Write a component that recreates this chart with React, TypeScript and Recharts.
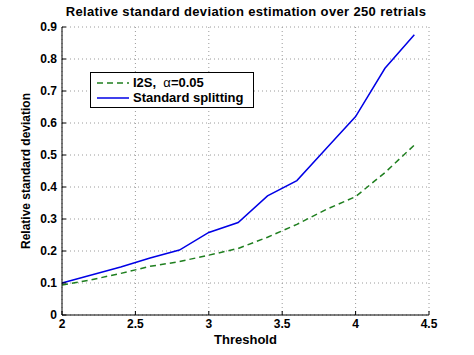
import React from "react";
import {
  LineChart,
  Line,
  XAxis,
  YAxis,
  CartesianGrid,
  Legend,
} from "recharts";

const thresholds = [2, 2.2, 2.4, 2.6, 2.8, 3, 3.2, 3.4, 3.6, 3.8, 4, 4.2, 4.4];
const i2sValues = [0.094, 0.11, 0.13, 0.152, 0.167, 0.187, 0.208, 0.243, 0.283, 0.33, 0.37, 0.445, 0.531];
const standardValues = [0.1, 0.125, 0.15, 0.178, 0.203, 0.258, 0.289, 0.372, 0.42, 0.52, 0.62, 0.771, 0.876];
const xTicks = [2, 2.5, 3, 3.5, 4, 4.5];
const yTicks = [0, 0.1, 0.2, 0.3, 0.4, 0.5, 0.6, 0.7, 0.8, 0.9];

const I2S_COLOR = "#1f7f1f";
const STD_COLOR = "#0000e6";
const FONT = "'Liberation Sans', Arial, sans-serif";

const data = thresholds.map((t, i) => ({
  threshold: t,
  i2s: i2sValues[i],
  standard: standardValues[i],
}));

function LegendBox() {
  return (
    <div
      style={{
        border: "1px solid #000",
        background: "#fff",
        padding: "2px 4px",
        fontFamily: FONT,
        fontWeight: "bold",
        fontSize: 13,
        color: "#000",
        lineHeight: "15px",
        width: 154,
      }}
    >
      <div style={{ display: "flex", alignItems: "center" }}>
        <svg width={36} height={10}>
          <line x1={2} y1={5} x2={34} y2={5} stroke={I2S_COLOR} strokeWidth={1.5} strokeDasharray="6 4" />
        </svg>
        <span style={{ marginLeft: 2 }}>
          I2S,&nbsp; <span style={{ fontWeight: "normal" }}>α</span>=0.05
        </span>
      </div>
      <div style={{ display: "flex", alignItems: "center" }}>
        <svg width={36} height={10}>
          <line x1={2} y1={5} x2={34} y2={5} stroke={STD_COLOR} strokeWidth={1.5} />
        </svg>
        <span style={{ marginLeft: 2 }}>Standard splitting</span>
      </div>
    </div>
  );
}

export default function App() {
  const tickStyle = { fontSize: 12, fontWeight: "bold" as const, fill: "#000", fontFamily: FONT };
  return (
    <div style={{ position: "absolute", left: 0, top: 0, width: 474, height: 355, background: "#fff" }}>
      <div
        style={{
          position: "absolute",
          left: 0,
          top: 4,
          width: 492,
          textAlign: "center",
          fontFamily: FONT,
          fontWeight: "bold",
          fontSize: 13,
          color: "#000",
          letterSpacing: 0.35,
        }}
      >
        Relative standard deviation estimation over 250 retrials
      </div>
      <LineChart
        width={474}
        height={355}
        data={data}
        margin={{ top: 27, right: 45, left: 0, bottom: 0 }}
      >
        <CartesianGrid stroke="#9a9a9a" strokeDasharray="1 3" />
        <XAxis
          dataKey="threshold"
          type="number"
          domain={[2, 4.5]}
          ticks={xTicks}
          height={40}
          tick={tickStyle}
          tickSize={-4}
          tickMargin={8}
          tickLine={{ stroke: "#000" }}
          axisLine={{ stroke: "#000" }}
          label={{ value: "Threshold", position: "insideBottom", offset: 11, style: { ...tickStyle, fontSize: 13 } }}
        />
        <XAxis
          xAxisId="top"
          dataKey="threshold"
          type="number"
          orientation="top"
          domain={[2, 4.5]}
          ticks={xTicks}
          height={0}
          tick={false}
          tickSize={-4}
          tickLine={{ stroke: "#000" }}
          axisLine={{ stroke: "#000" }}
        />
        <YAxis
          type="number"
          domain={[0, 0.9]}
          ticks={yTicks}
          width={62}
          tick={tickStyle}
          tickSize={-4}
          tickMargin={9}
          tickLine={{ stroke: "#000" }}
          axisLine={{ stroke: "#000" }}
          label={{
            value: "Relative standard deviation",
            angle: -90,
            position: "insideLeft",
            offset: 26,
            style: { ...tickStyle, fontSize: 12, textAnchor: "middle" },
          }}
        />
        <YAxis
          yAxisId="right"
          type="number"
          orientation="right"
          domain={[0, 0.9]}
          ticks={yTicks}
          width={0}
          tick={false}
          tickSize={-4}
          tickLine={{ stroke: "#000" }}
          axisLine={{ stroke: "#000" }}
        />
        <Legend
          layout="vertical"
          align="center"
          verticalAlign="middle"
          content={() => <LegendBox />}
          wrapperStyle={{ left: 90, top: 72, width: 164 }}
        />
        <Line
          dataKey="i2s"
          name="I2S, α=0.05"
          stroke={I2S_COLOR}
          strokeWidth={1.5}
          strokeDasharray="6 4"
          dot={false}
          type="linear"
          isAnimationActive={false}
        />
        <Line
          dataKey="standard"
          name="Standard splitting"
          stroke={STD_COLOR}
          strokeWidth={1.5}
          dot={false}
          type="linear"
          isAnimationActive={false}
        />
      </LineChart>
    </div>
  );
}
